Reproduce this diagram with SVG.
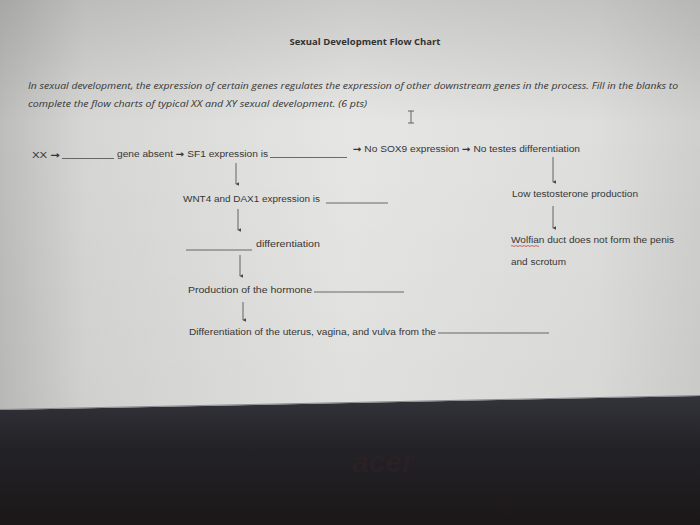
<svg xmlns="http://www.w3.org/2000/svg" width="700" height="525" viewBox="0 0 700 525">
<defs>
<linearGradient id="scr" x1="0" y1="0" x2="1" y2="0">
<stop offset="0" stop-color="#bdbdbb"/>
<stop offset="0.12" stop-color="#d6d6d4"/>
<stop offset="0.5" stop-color="#e6e6e4"/>
<stop offset="0.85" stop-color="#dededc"/>
<stop offset="1" stop-color="#cfcfcd"/>
</linearGradient>
<linearGradient id="shade" x1="0" y1="0" x2="0" y2="1">
<stop offset="0" stop-color="#000" stop-opacity="0.12"/>
<stop offset="0.3" stop-color="#000" stop-opacity="0"/>
<stop offset="1" stop-color="#000" stop-opacity="0.03"/>
</linearGradient>
<linearGradient id="bez" x1="0" y1="0" x2="0" y2="1">
<stop offset="0" stop-color="#33333b"/>
<stop offset="0.4" stop-color="#232227"/>
<stop offset="1" stop-color="#1b1718"/>
</linearGradient>
<marker id="ah" viewBox="0 0 6 6" refX="3" refY="5" markerWidth="4" markerHeight="4" orient="auto-start-reverse">
<path d="M0,0 L3,6 L6,0 Z" fill="#4a4a4a"/>
</marker>
<style>
text{font-family:"Liberation Sans","DejaVu Sans",sans-serif;fill:#363636;font-size:9.2px}
.a{font-family:"DejaVu Sans",sans-serif;font-weight:bold}
.t{font-family:"Open Sans","Liberation Sans",sans-serif;font-weight:bold;font-size:9.5px;fill:#333}
.i{font-family:"Open Sans","Liberation Sans",sans-serif;font-style:italic;font-size:9.6px}
.b{stroke:#4a4a4a;stroke-width:0.8}
.c line{stroke:#555;stroke-width:0.9;marker-end:url(#ah)}
</style>
</defs>
<rect width="700" height="525" fill="url(#scr)"/>
<rect width="700" height="410" fill="url(#shade)"/>
<polygon points="0,410 700,396 700,525 0,525" fill="url(#bez)"/>
<line x1="0" y1="409.5" x2="700" y2="395.5" stroke="#8a8a90" stroke-width="1"/>
<text x="352" y="472" style="fill:#2b2224;font-size:30px;font-weight:bold;font-style:italic;opacity:0.8">acer</text>

<g id="title"><text class="t" x="365" y="45" text-anchor="middle">Sexual Development Flow Chart</text></g>
<g id="instructions">
<text class="i" x="28" y="89" textLength="650" lengthAdjust="spacingAndGlyphs">In sexual development, the expression of certain genes regulates the expression of other downstream genes in the process.  Fill in the blanks to</text>
<text class="i" x="28" y="107" textLength="339" lengthAdjust="spacingAndGlyphs">complete the flow charts of typical XX and XY sexual development. (6 pts)</text>
</g>
<g id="cursor" stroke="#555" stroke-width="0.9" fill="none">
<path d="M411,111 V123 M408,111 H414 M408,123 H414"/>
</g>

<g id="n1">
<text x="32" y="158" textLength="28" lengthAdjust="spacingAndGlyphs">XX <tspan class="a">→</tspan></text>
<line class="b" x1="62" y1="158.5" x2="114" y2="158.5"/>
<text x="117" y="157" textLength="151" lengthAdjust="spacingAndGlyphs">gene absent <tspan class="a">→</tspan> SF1 expression is</text>
<line class="b" x1="270" y1="157.5" x2="347" y2="157.5"/>
<text x="353" y="152" textLength="227" lengthAdjust="spacingAndGlyphs"><tspan class="a">→</tspan> No SOX9 expression <tspan class="a">→</tspan> No testes differentiation</text>
</g>
<g id="n2">
<text x="183" y="202" textLength="137" lengthAdjust="spacingAndGlyphs">WNT4 and DAX1 expression is</text>
<line class="b" x1="326" y1="203" x2="388" y2="203"/>
</g>
<g id="n3">
<line class="b" x1="186" y1="250" x2="252" y2="250"/>
<text x="256" y="247" textLength="64" lengthAdjust="spacingAndGlyphs">differentiation</text>
</g>
<g id="n4">
<text x="188" y="293" textLength="124" lengthAdjust="spacingAndGlyphs">Production of the hormone</text>
<line class="b" x1="314" y1="292" x2="404" y2="292"/>
</g>
<g id="n5">
<text x="189" y="335" textLength="247" lengthAdjust="spacingAndGlyphs">Differentiation of the uterus, vagina, and vulva from the</text>
<line class="b" x1="438" y1="333" x2="549" y2="333"/>
</g>
<g id="n6"><text x="512" y="197" textLength="126" lengthAdjust="spacingAndGlyphs">Low testosterone production</text></g>
<g id="n7">
<text x="511" y="243" textLength="163" lengthAdjust="spacingAndGlyphs">Wolfian duct does not form the penis</text>
<path d="M511,246 q1,-1 2,0 t2,0 t2,0 t2,0 t2,0 t2,0 t2,0 t2,0 t2,0 t2,0 t2,0 t2,0 t2,0 t2,0" stroke="#c0302e" stroke-width="0.7" fill="none"/>
<text x="511" y="265" textLength="55" lengthAdjust="spacingAndGlyphs">and scrotum</text>
</g>

<g id="connectors" class="c">
<line x1="236" y1="163" x2="236" y2="184"/>
<line x1="238" y1="209" x2="238" y2="230"/>
<line x1="240" y1="255" x2="240" y2="276"/>
<line x1="243" y1="302" x2="243" y2="320"/>
<line x1="553" y1="157" x2="553" y2="182"/>
<line x1="553" y1="206" x2="553" y2="228"/>
</g>
</svg>
